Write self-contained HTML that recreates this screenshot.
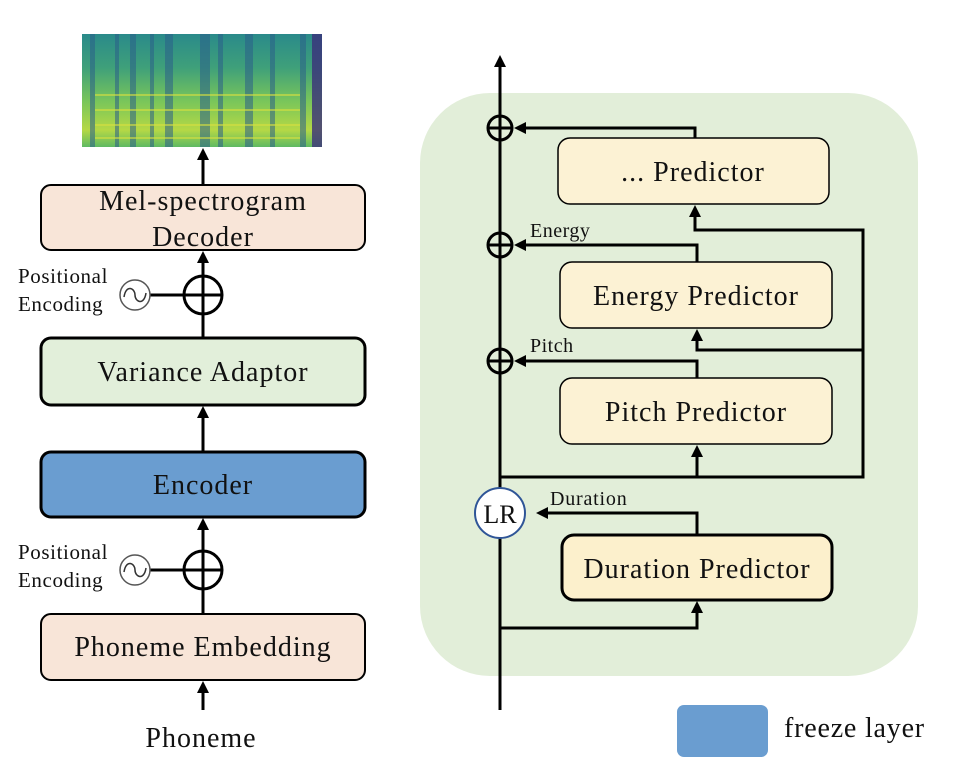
<!DOCTYPE html>
<html><head><meta charset="utf-8"><style>
html,body{margin:0;padding:0;background:#fff;}
svg{display:block;}
text{font-family:"Liberation Serif",serif;fill:#111;}
.b{font-size:28px;letter-spacing:1px;}
.s{font-size:21px;letter-spacing:0.6px;}
</style></head><body>
<svg width="968" height="784" viewBox="0 0 968 784" xmlns="http://www.w3.org/2000/svg">
<defs>
<marker id="ah" markerWidth="12" markerHeight="12" refX="6" refY="6" orient="auto" markerUnits="userSpaceOnUse">
<path d="M0,0 L12,6 L0,12 z" fill="#000"/></marker>
<linearGradient id="spv" x1="0" y1="0" x2="0" y2="1">
<stop offset="0" stop-color="#2a8a8a"/><stop offset="0.3" stop-color="#3fa07a"/><stop offset="0.6" stop-color="#7ac65a"/><stop offset="0.85" stop-color="#b5d845"/><stop offset="1" stop-color="#5fba63"/></linearGradient>
</defs>
<rect x="82" y="34" width="240" height="113" fill="url(#spv)"/>
<g fill="#2b5f8a" opacity="0.55">
<rect x="90" y="34" width="5" height="113"/><rect x="115" y="34" width="4" height="113"/>
<rect x="130" y="34" width="6" height="113"/><rect x="150" y="34" width="4" height="113"/>
<rect x="165" y="34" width="8" height="113"/><rect x="200" y="34" width="10" height="113"/>
<rect x="218" y="34" width="5" height="113"/><rect x="245" y="34" width="8" height="113"/>
<rect x="270" y="34" width="5" height="113"/><rect x="300" y="34" width="6" height="113"/>
</g>
<rect x="312" y="34" width="10" height="113" fill="#3b2f7a" opacity="0.8"/>
<g stroke="#d8e040" stroke-width="2" opacity="0.6">
<line x1="95" y1="95" x2="300" y2="95"/><line x1="95" y1="110" x2="300" y2="110"/><line x1="95" y1="125" x2="300" y2="125"/><line x1="95" y1="138" x2="300" y2="138"/>
</g>

<g stroke="#000" stroke-width="3" fill="none">
<line x1="203" y1="185" x2="203" y2="154" marker-end="url(#ah)"/>
<line x1="203" y1="338" x2="203" y2="257" marker-end="url(#ah)"/>
<line x1="203" y1="452" x2="203" y2="412" marker-end="url(#ah)"/>
<line x1="203" y1="614" x2="203" y2="524" marker-end="url(#ah)"/>
<line x1="203" y1="710" x2="203" y2="687" marker-end="url(#ah)"/>
<line x1="150" y1="295" x2="203" y2="295"/>
<line x1="150" y1="570" x2="203" y2="570"/>
<circle cx="203" cy="295" r="19" fill="none"/><line x1="184" y1="295" x2="222" y2="295"/>
<circle cx="203" cy="570" r="19" fill="none"/><line x1="184" y1="570" x2="222" y2="570"/>
</g>
<g stroke="#555" stroke-width="1.5" fill="#fff">
<circle cx="135" cy="295" r="15"/><circle cx="135" cy="570" r="15"/>
</g>
<path d="M124,297 C126,284 135,288 135,295 C135,302 144,306 146,293" stroke="#333" stroke-width="1.5" fill="none"/>
<path d="M124,572 C126,559 135,563 135,570 C135,577 144,581 146,568" stroke="#333" stroke-width="1.5" fill="none"/>
<text x="18" y="283" class="s">Positional</text><text x="18" y="311" class="s">Encoding</text>
<text x="18" y="559" class="s">Positional</text><text x="18" y="587" class="s">Encoding</text>

<rect x="41" y="185" width="324" height="65" rx="10" fill="#f8e5d8" stroke="#000" stroke-width="2"/>
<text x="203" y="210" class="b" text-anchor="middle">Mel-spectrogram</text>
<text x="203" y="246" class="b" text-anchor="middle">Decoder</text>
<rect x="41" y="338" width="324" height="67" rx="10" fill="#e2efda" stroke="#000" stroke-width="3"/>
<text x="203" y="381" class="b" text-anchor="middle">Variance Adaptor</text>
<rect x="41" y="452" width="324" height="65" rx="10" fill="#6a9dd0" stroke="#000" stroke-width="3"/>
<text x="203" y="494" class="b" text-anchor="middle">Encoder</text>
<rect x="41" y="614" width="324" height="66" rx="10" fill="#f8e5d8" stroke="#000" stroke-width="2"/>
<text x="203" y="656" class="b" text-anchor="middle">Phoneme Embedding</text>
<text x="201" y="747" class="b" text-anchor="middle">Phoneme</text>

<rect x="420" y="93" width="498" height="583" rx="70" fill="#e2eed9"/>
<g stroke="#000" stroke-width="3" fill="none">
<line x1="500" y1="710" x2="500" y2="61" marker-end="url(#ah)"/>
<polyline points="695,138 695,128 520,128" marker-end="url(#ah)"/>
<polyline points="697,262 697,245 520,245" marker-end="url(#ah)"/>
<polyline points="697,378 697,361 520,361" marker-end="url(#ah)"/>
<polyline points="500,477 863,477 863,230 695,230 695,211" marker-end="url(#ah)"/>
<polyline points="863,350 697,350 697,335" marker-end="url(#ah)"/>
<line x1="697" y1="477" x2="697" y2="451" marker-end="url(#ah)"/>
<polyline points="697,535 697,513 542,513" marker-end="url(#ah)"/>
<polyline points="500,628 697,628 697,607" marker-end="url(#ah)"/>
<circle cx="500" cy="128" r="12"/><line x1="488" y1="128" x2="512" y2="128"/>
<circle cx="500" cy="245" r="12"/><line x1="488" y1="245" x2="512" y2="245"/>
<circle cx="500" cy="361" r="12"/><line x1="488" y1="361" x2="512" y2="361"/>
</g>
<text x="530" y="237" font-size="20" letter-spacing="0.5">Energy</text>
<text x="530" y="352" font-size="20" letter-spacing="0.5">Pitch</text>
<text x="550" y="505" font-size="20" letter-spacing="0.8">Duration</text>
<circle cx="500" cy="513" r="25" fill="#fff" stroke="#2f5597" stroke-width="2"/>
<text x="500" y="523" font-size="26" text-anchor="middle">LR</text>

<rect x="558" y="138" width="271" height="66" rx="12" fill="#fcf2d4" stroke="#000" stroke-width="1.5"/>
<text x="693" y="181" class="b" text-anchor="middle">... Predictor</text>
<rect x="560" y="262" width="272" height="66" rx="12" fill="#fcf2d4" stroke="#000" stroke-width="1.5"/>
<text x="696" y="305" class="b" text-anchor="middle">Energy Predictor</text>
<rect x="560" y="378" width="272" height="66" rx="12" fill="#fcf2d4" stroke="#000" stroke-width="1.5"/>
<text x="696" y="421" class="b" text-anchor="middle">Pitch Predictor</text>
<rect x="562" y="535" width="270" height="65" rx="12" fill="#fcf0cc" stroke="#000" stroke-width="3"/>
<text x="697" y="578" class="b" text-anchor="middle">Duration Predictor</text>

<rect x="677" y="705" width="91" height="52" rx="7" fill="#6a9dd0"/>
<text x="784" y="737" font-size="28" letter-spacing="0.8">freeze layer</text>
</svg>
</body></html>
